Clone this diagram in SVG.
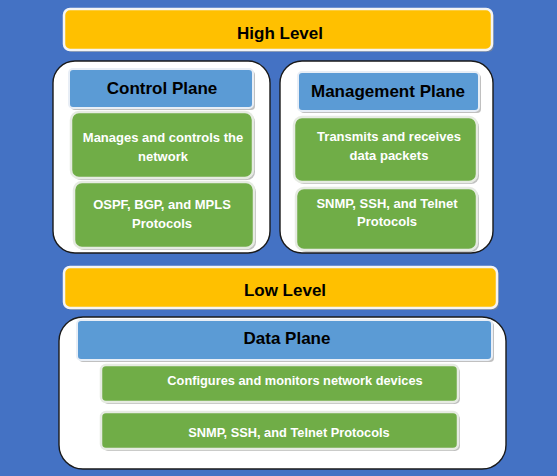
<svg xmlns="http://www.w3.org/2000/svg" width="557" height="476" viewBox="0 0 557 476">
<style>
.bg{fill:#4472C4}
.outer{fill:#ffffff;stroke:#1a1a1a;stroke-width:1.4}
.bar{fill:#FFC000;stroke:#f4f4f4;stroke-width:2.5}
.hdr{fill:#5B9BD5;stroke:#e8eef6;stroke-width:2}
.grn{fill:#70AD47;stroke:#e6ebe2;stroke-width:2.5}
.sh{fill:#8c8c8c;opacity:0.55}
.t{font-family:"Liberation Sans",Arial,sans-serif;font-weight:bold;text-anchor:middle}
.tb{font-size:17px;fill:#000000}
.tw{font-size:13px;fill:#ffffff}
</style>
<rect class="bg" x="0" y="0" width="557" height="476"/>

<g id="high-level">
<rect class="sh" x="66" y="11" width="428" height="41" rx="6"/>
<rect class="bar" x="64" y="9" width="428" height="41" rx="6"/>
<text class="t tb" x="280" y="39">High Level</text>
</g>

<g id="control-plane">
<rect class="outer" x="53" y="61" width="217" height="192" rx="22"/>
<g id="control-header">
<rect class="sh" x="71" y="71" width="184" height="39" rx="4"/>
<rect class="hdr" x="69" y="69" width="184" height="39" rx="4"/>
<text class="t tb" x="162" y="94">Control Plane</text>
</g>
<g id="control-desc">
<rect class="sh" x="73" y="114" width="182" height="66" rx="8"/>
<rect class="grn" x="71" y="112" width="182" height="66" rx="8"/>
<text class="t tw" x="163" y="142">Manages and controls the</text>
<text class="t tw" x="163" y="161">network</text>
</g>
<g id="control-proto">
<rect class="sh" x="76" y="184" width="180" height="66" rx="8"/>
<rect class="grn" x="74" y="182" width="180" height="66" rx="8"/>
<text class="t tw" x="162" y="209">OSPF, BGP, and MPLS</text>
<text class="t tw" x="162" y="228">Protocols</text>
</g>
</g>

<g id="management-plane">
<rect class="outer" x="280" y="61" width="213" height="192" rx="22"/>
<g id="management-header">
<rect class="sh" x="300" y="74" width="181" height="39" rx="4"/>
<rect class="hdr" x="298" y="72" width="181" height="39" rx="4"/>
<text class="t tb" x="388" y="97">Management Plane</text>
</g>
<g id="management-desc">
<rect class="sh" x="296" y="119" width="183" height="65" rx="8"/>
<rect class="grn" x="294" y="117" width="183" height="65" rx="8"/>
<text class="t tw" x="389" y="141">Transmits and receives</text>
<text class="t tw" x="389" y="160">data packets</text>
</g>
<g id="management-proto">
<rect class="sh" x="298" y="190" width="181" height="62" rx="8"/>
<rect class="grn" x="296" y="188" width="181" height="62" rx="8"/>
<text class="t tw" x="387" y="208">SNMP, SSH, and Telnet</text>
<text class="t tw" x="387" y="226">Protocols</text>
</g>
</g>

<g id="low-level">
<rect class="sh" x="66" y="269" width="433" height="41" rx="6"/>
<rect class="bar" x="64" y="267" width="433" height="41" rx="6"/>
<text class="t tb" x="285" y="296">Low Level</text>
</g>

<g id="data-plane">
<rect class="outer" x="59" y="317" width="447" height="152" rx="24"/>
<g id="data-header">
<rect class="sh" x="79" y="322" width="415" height="40" rx="4"/>
<rect class="hdr" x="77" y="320" width="415" height="40" rx="4"/>
<text class="t tb" x="287" y="344">Data Plane</text>
</g>
<g id="data-desc">
<rect class="sh" x="103" y="367" width="357" height="37" rx="5"/>
<rect class="grn" x="101" y="365" width="357" height="37" rx="5"/>
<text class="t tw" x="295" y="385" style="font-size:12.8px">Configures and monitors network devices</text>
</g>
<g id="data-proto">
<rect class="sh" x="103" y="414" width="357" height="37" rx="5"/>
<rect class="grn" x="101" y="412" width="357" height="37" rx="5"/>
<text class="t tw" x="289" y="437" style="font-size:12.8px">SNMP, SSH, and Telnet Protocols</text>
</g>
</g>

<g id="connectors"></g>
</svg>
